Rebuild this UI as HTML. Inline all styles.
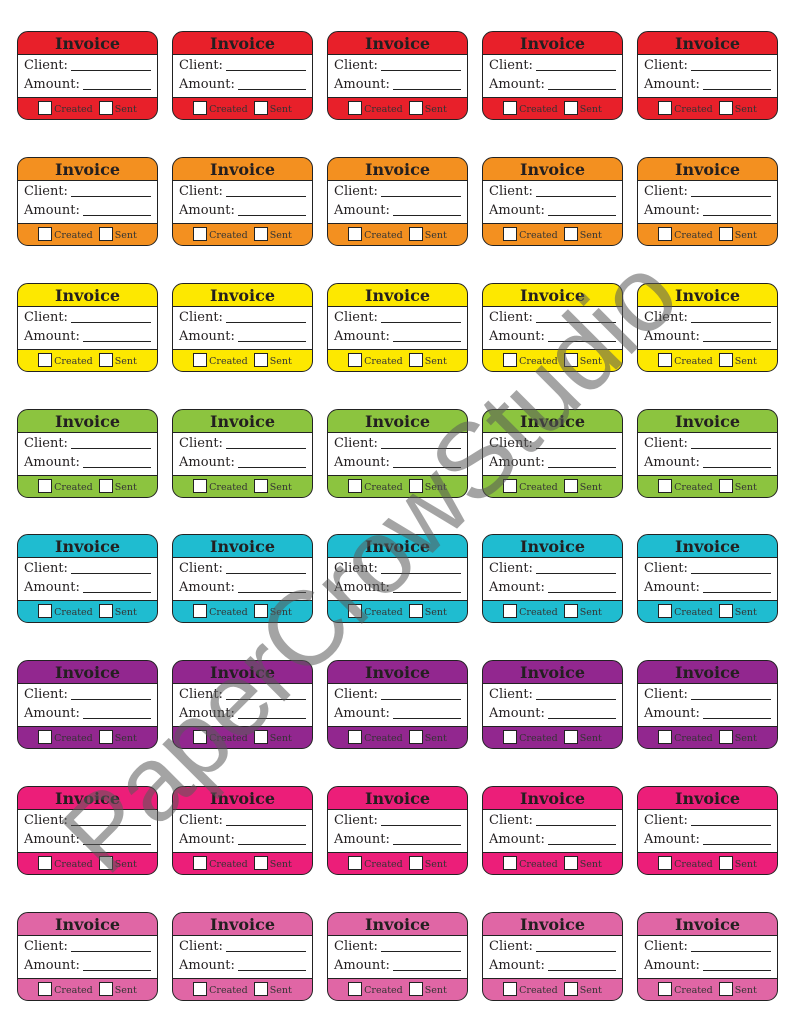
<!DOCTYPE html>
<html><head><meta charset="utf-8"><style>
body{margin:0;width:794px;height:1028px;background:#fff;position:relative;overflow:hidden;font-family:"DejaVu Serif","Liberation Serif",serif;}
.r{position:absolute;left:0;width:794px;height:90px}
.s{position:absolute;top:0;width:139px;height:87px;border:1px solid #222;border-radius:11px;overflow:hidden;background:var(--c)}
.c0{left:17px}.c1{left:172px}.c2{left:327px}.c3{left:482px}.c4{left:637px}
.h{height:22px;border-bottom:1px solid #222;text-align:center;font-weight:bold;font-size:16px;line-height:23px;color:#231f20}
.b{background:#fff;height:42px;border-bottom:1px solid #222;padding:0 6px;font-size:13px;color:#231f20}
.b div{display:flex;align-items:flex-end;height:19px;line-height:16px}
.b i{flex:1;border-bottom:1.5px solid #222;margin-left:3px;margin-bottom:3px}
.f{height:22px;text-align:center;font-size:9.5px;color:#333;line-height:23px}
.f b{display:inline-block;width:12px;height:12px;background:#fff;border:1px solid #222;vertical-align:-3px;margin:0 2px 0 0}
.f b+span{margin-right:6px}
#wm{position:absolute;left:-50px;top:505px;width:840px;text-align:center;font-family:"Liberation Sans",sans-serif;font-size:106px;color:rgba(90,90,90,0.55);transform:rotate(-45deg);transform-origin:center;white-space:nowrap;letter-spacing:-1px}
</style></head><body>
<div class="r" style="top:31px;--c:#e8202a">
<div class="s c0"><div class="h">Invoice</div><div class="b"><div>Client:<i></i></div><div>Amount:<i></i></div></div><div class="f"><b></b><span>Created</span><b></b>Sent</div></div>
<div class="s c1"><div class="h">Invoice</div><div class="b"><div>Client:<i></i></div><div>Amount:<i></i></div></div><div class="f"><b></b><span>Created</span><b></b>Sent</div></div>
<div class="s c2"><div class="h">Invoice</div><div class="b"><div>Client:<i></i></div><div>Amount:<i></i></div></div><div class="f"><b></b><span>Created</span><b></b>Sent</div></div>
<div class="s c3"><div class="h">Invoice</div><div class="b"><div>Client:<i></i></div><div>Amount:<i></i></div></div><div class="f"><b></b><span>Created</span><b></b>Sent</div></div>
<div class="s c4"><div class="h">Invoice</div><div class="b"><div>Client:<i></i></div><div>Amount:<i></i></div></div><div class="f"><b></b><span>Created</span><b></b>Sent</div></div>
</div>
<div class="r" style="top:157px;--c:#f39020">
<div class="s c0"><div class="h">Invoice</div><div class="b"><div>Client:<i></i></div><div>Amount:<i></i></div></div><div class="f"><b></b><span>Created</span><b></b>Sent</div></div>
<div class="s c1"><div class="h">Invoice</div><div class="b"><div>Client:<i></i></div><div>Amount:<i></i></div></div><div class="f"><b></b><span>Created</span><b></b>Sent</div></div>
<div class="s c2"><div class="h">Invoice</div><div class="b"><div>Client:<i></i></div><div>Amount:<i></i></div></div><div class="f"><b></b><span>Created</span><b></b>Sent</div></div>
<div class="s c3"><div class="h">Invoice</div><div class="b"><div>Client:<i></i></div><div>Amount:<i></i></div></div><div class="f"><b></b><span>Created</span><b></b>Sent</div></div>
<div class="s c4"><div class="h">Invoice</div><div class="b"><div>Client:<i></i></div><div>Amount:<i></i></div></div><div class="f"><b></b><span>Created</span><b></b>Sent</div></div>
</div>
<div class="r" style="top:283px;--c:#fde800">
<div class="s c0"><div class="h">Invoice</div><div class="b"><div>Client:<i></i></div><div>Amount:<i></i></div></div><div class="f"><b></b><span>Created</span><b></b>Sent</div></div>
<div class="s c1"><div class="h">Invoice</div><div class="b"><div>Client:<i></i></div><div>Amount:<i></i></div></div><div class="f"><b></b><span>Created</span><b></b>Sent</div></div>
<div class="s c2"><div class="h">Invoice</div><div class="b"><div>Client:<i></i></div><div>Amount:<i></i></div></div><div class="f"><b></b><span>Created</span><b></b>Sent</div></div>
<div class="s c3"><div class="h">Invoice</div><div class="b"><div>Client:<i></i></div><div>Amount:<i></i></div></div><div class="f"><b></b><span>Created</span><b></b>Sent</div></div>
<div class="s c4"><div class="h">Invoice</div><div class="b"><div>Client:<i></i></div><div>Amount:<i></i></div></div><div class="f"><b></b><span>Created</span><b></b>Sent</div></div>
</div>
<div class="r" style="top:409px;--c:#8cc43f">
<div class="s c0"><div class="h">Invoice</div><div class="b"><div>Client:<i></i></div><div>Amount:<i></i></div></div><div class="f"><b></b><span>Created</span><b></b>Sent</div></div>
<div class="s c1"><div class="h">Invoice</div><div class="b"><div>Client:<i></i></div><div>Amount:<i></i></div></div><div class="f"><b></b><span>Created</span><b></b>Sent</div></div>
<div class="s c2"><div class="h">Invoice</div><div class="b"><div>Client:<i></i></div><div>Amount:<i></i></div></div><div class="f"><b></b><span>Created</span><b></b>Sent</div></div>
<div class="s c3"><div class="h">Invoice</div><div class="b"><div>Client:<i></i></div><div>Amount:<i></i></div></div><div class="f"><b></b><span>Created</span><b></b>Sent</div></div>
<div class="s c4"><div class="h">Invoice</div><div class="b"><div>Client:<i></i></div><div>Amount:<i></i></div></div><div class="f"><b></b><span>Created</span><b></b>Sent</div></div>
</div>
<div class="r" style="top:534px;--c:#1fbcd0">
<div class="s c0"><div class="h">Invoice</div><div class="b"><div>Client:<i></i></div><div>Amount:<i></i></div></div><div class="f"><b></b><span>Created</span><b></b>Sent</div></div>
<div class="s c1"><div class="h">Invoice</div><div class="b"><div>Client:<i></i></div><div>Amount:<i></i></div></div><div class="f"><b></b><span>Created</span><b></b>Sent</div></div>
<div class="s c2"><div class="h">Invoice</div><div class="b"><div>Client:<i></i></div><div>Amount:<i></i></div></div><div class="f"><b></b><span>Created</span><b></b>Sent</div></div>
<div class="s c3"><div class="h">Invoice</div><div class="b"><div>Client:<i></i></div><div>Amount:<i></i></div></div><div class="f"><b></b><span>Created</span><b></b>Sent</div></div>
<div class="s c4"><div class="h">Invoice</div><div class="b"><div>Client:<i></i></div><div>Amount:<i></i></div></div><div class="f"><b></b><span>Created</span><b></b>Sent</div></div>
</div>
<div class="r" style="top:660px;--c:#92278f">
<div class="s c0"><div class="h">Invoice</div><div class="b"><div>Client:<i></i></div><div>Amount:<i></i></div></div><div class="f"><b></b><span>Created</span><b></b>Sent</div></div>
<div class="s c1"><div class="h">Invoice</div><div class="b"><div>Client:<i></i></div><div>Amount:<i></i></div></div><div class="f"><b></b><span>Created</span><b></b>Sent</div></div>
<div class="s c2"><div class="h">Invoice</div><div class="b"><div>Client:<i></i></div><div>Amount:<i></i></div></div><div class="f"><b></b><span>Created</span><b></b>Sent</div></div>
<div class="s c3"><div class="h">Invoice</div><div class="b"><div>Client:<i></i></div><div>Amount:<i></i></div></div><div class="f"><b></b><span>Created</span><b></b>Sent</div></div>
<div class="s c4"><div class="h">Invoice</div><div class="b"><div>Client:<i></i></div><div>Amount:<i></i></div></div><div class="f"><b></b><span>Created</span><b></b>Sent</div></div>
</div>
<div class="r" style="top:786px;--c:#ec1e79">
<div class="s c0"><div class="h">Invoice</div><div class="b"><div>Client:<i></i></div><div>Amount:<i></i></div></div><div class="f"><b></b><span>Created</span><b></b>Sent</div></div>
<div class="s c1"><div class="h">Invoice</div><div class="b"><div>Client:<i></i></div><div>Amount:<i></i></div></div><div class="f"><b></b><span>Created</span><b></b>Sent</div></div>
<div class="s c2"><div class="h">Invoice</div><div class="b"><div>Client:<i></i></div><div>Amount:<i></i></div></div><div class="f"><b></b><span>Created</span><b></b>Sent</div></div>
<div class="s c3"><div class="h">Invoice</div><div class="b"><div>Client:<i></i></div><div>Amount:<i></i></div></div><div class="f"><b></b><span>Created</span><b></b>Sent</div></div>
<div class="s c4"><div class="h">Invoice</div><div class="b"><div>Client:<i></i></div><div>Amount:<i></i></div></div><div class="f"><b></b><span>Created</span><b></b>Sent</div></div>
</div>
<div class="r" style="top:912px;--c:#e066a5">
<div class="s c0"><div class="h">Invoice</div><div class="b"><div>Client:<i></i></div><div>Amount:<i></i></div></div><div class="f"><b></b><span>Created</span><b></b>Sent</div></div>
<div class="s c1"><div class="h">Invoice</div><div class="b"><div>Client:<i></i></div><div>Amount:<i></i></div></div><div class="f"><b></b><span>Created</span><b></b>Sent</div></div>
<div class="s c2"><div class="h">Invoice</div><div class="b"><div>Client:<i></i></div><div>Amount:<i></i></div></div><div class="f"><b></b><span>Created</span><b></b>Sent</div></div>
<div class="s c3"><div class="h">Invoice</div><div class="b"><div>Client:<i></i></div><div>Amount:<i></i></div></div><div class="f"><b></b><span>Created</span><b></b>Sent</div></div>
<div class="s c4"><div class="h">Invoice</div><div class="b"><div>Client:<i></i></div><div>Amount:<i></i></div></div><div class="f"><b></b><span>Created</span><b></b>Sent</div></div>
</div>
<div id="wm">PaperCrowStudio</div>
</body></html>
